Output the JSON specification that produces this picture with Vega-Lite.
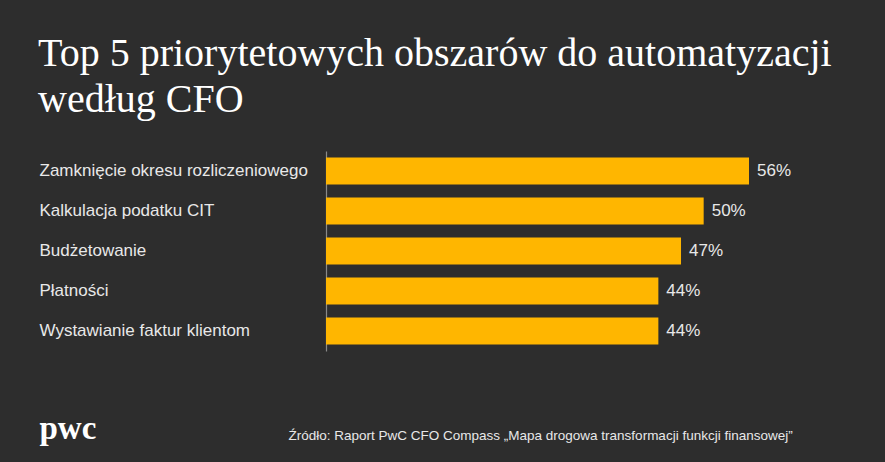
{
  "$schema": "https://vega.github.io/schema/vega-lite/v6.json",
  "autosize": {"type": "none"},
  "width": 423,
  "height": 200,
  "padding": {"left": 326, "top": 151, "right": 136, "bottom": 111},
  "background": "#2d2d2d",
  "config": {"view": {"stroke": null}},
  "title": {
    "text": ["Top 5 priorytetowych obszarów do automatyzacji", "według CFO"],
    "anchor": "start",
    "frame": "group",
    "dx": -288,
    "offset": 31,
    "font": "Liberation Serif",
    "fontSize": 40,
    "fontWeight": "normal",
    "color": "#ffffff",
    "lineHeight": 46
  },
  "data": {
    "values": [
      {"obszar": "Zamknięcie okresu rozliczeniowego", "udzial": 0.56},
      {"obszar": "Kalkulacja podatku CIT", "udzial": 0.50},
      {"obszar": "Budżetowanie", "udzial": 0.47},
      {"obszar": "Płatności", "udzial": 0.44},
      {"obszar": "Wystawianie faktur klientom", "udzial": 0.44}
    ]
  },
  "encoding": {
    "y": {
      "field": "obszar",
      "type": "nominal",
      "sort": null,
      "scale": {"paddingInner": 0.325, "paddingOuter": 0.1625},
      "axis": {
        "title": "pwc",
        "titleFont": "Liberation Serif",
        "titleFontWeight": "bold",
        "titleFontSize": 33,
        "titleColor": "#ffffff",
        "titleAngle": 0,
        "titleAlign": "left",
        "titleBaseline": "alphabetic",
        "titleX": -287,
        "titleY": 287,
        "ticks": false,
        "tickSize": 0,
        "labelPadding": 287,
        "labelAlign": "left",
        "labelBaseline": "middle",
        "labelFont": "Liberation Sans",
        "labelFontSize": 17,
        "labelColor": "#e8e8e8",
        "labelLimit": 320,
        "domainColor": "#8a8a8a",
        "domainWidth": 1.2
      }
    },
    "x": {
      "field": "udzial",
      "type": "quantitative",
      "scale": {"domain": [0, 0.56], "nice": false},
      "axis": {
        "title": "Źródło: Raport PwC CFO Compass „Mapa drogowa transformacji funkcji finansowej”",
        "titleFont": "Liberation Sans",
        "titleFontSize": 13.5,
        "titleFontWeight": "normal",
        "titleColor": "#e8e8e8",
        "titleAlign": "left",
        "titleAnchor": "start",
        "titleBaseline": "alphabetic",
        "titleX": -38,
        "titleY": 88,
        "domain": false,
        "ticks": false,
        "labels": false,
        "grid": false
      }
    }
  },
  "layer": [
    {"mark": {"type": "bar", "color": "#ffb600"}},
    {
      "mark": {
        "type": "text",
        "align": "left",
        "baseline": "middle",
        "dx": 8,
        "font": "Liberation Sans",
        "fontSize": 17,
        "color": "#e8e8e8"
      },
      "encoding": {"text": {"field": "udzial", "type": "quantitative", "format": ".0%"}}
    }
  ]
}
